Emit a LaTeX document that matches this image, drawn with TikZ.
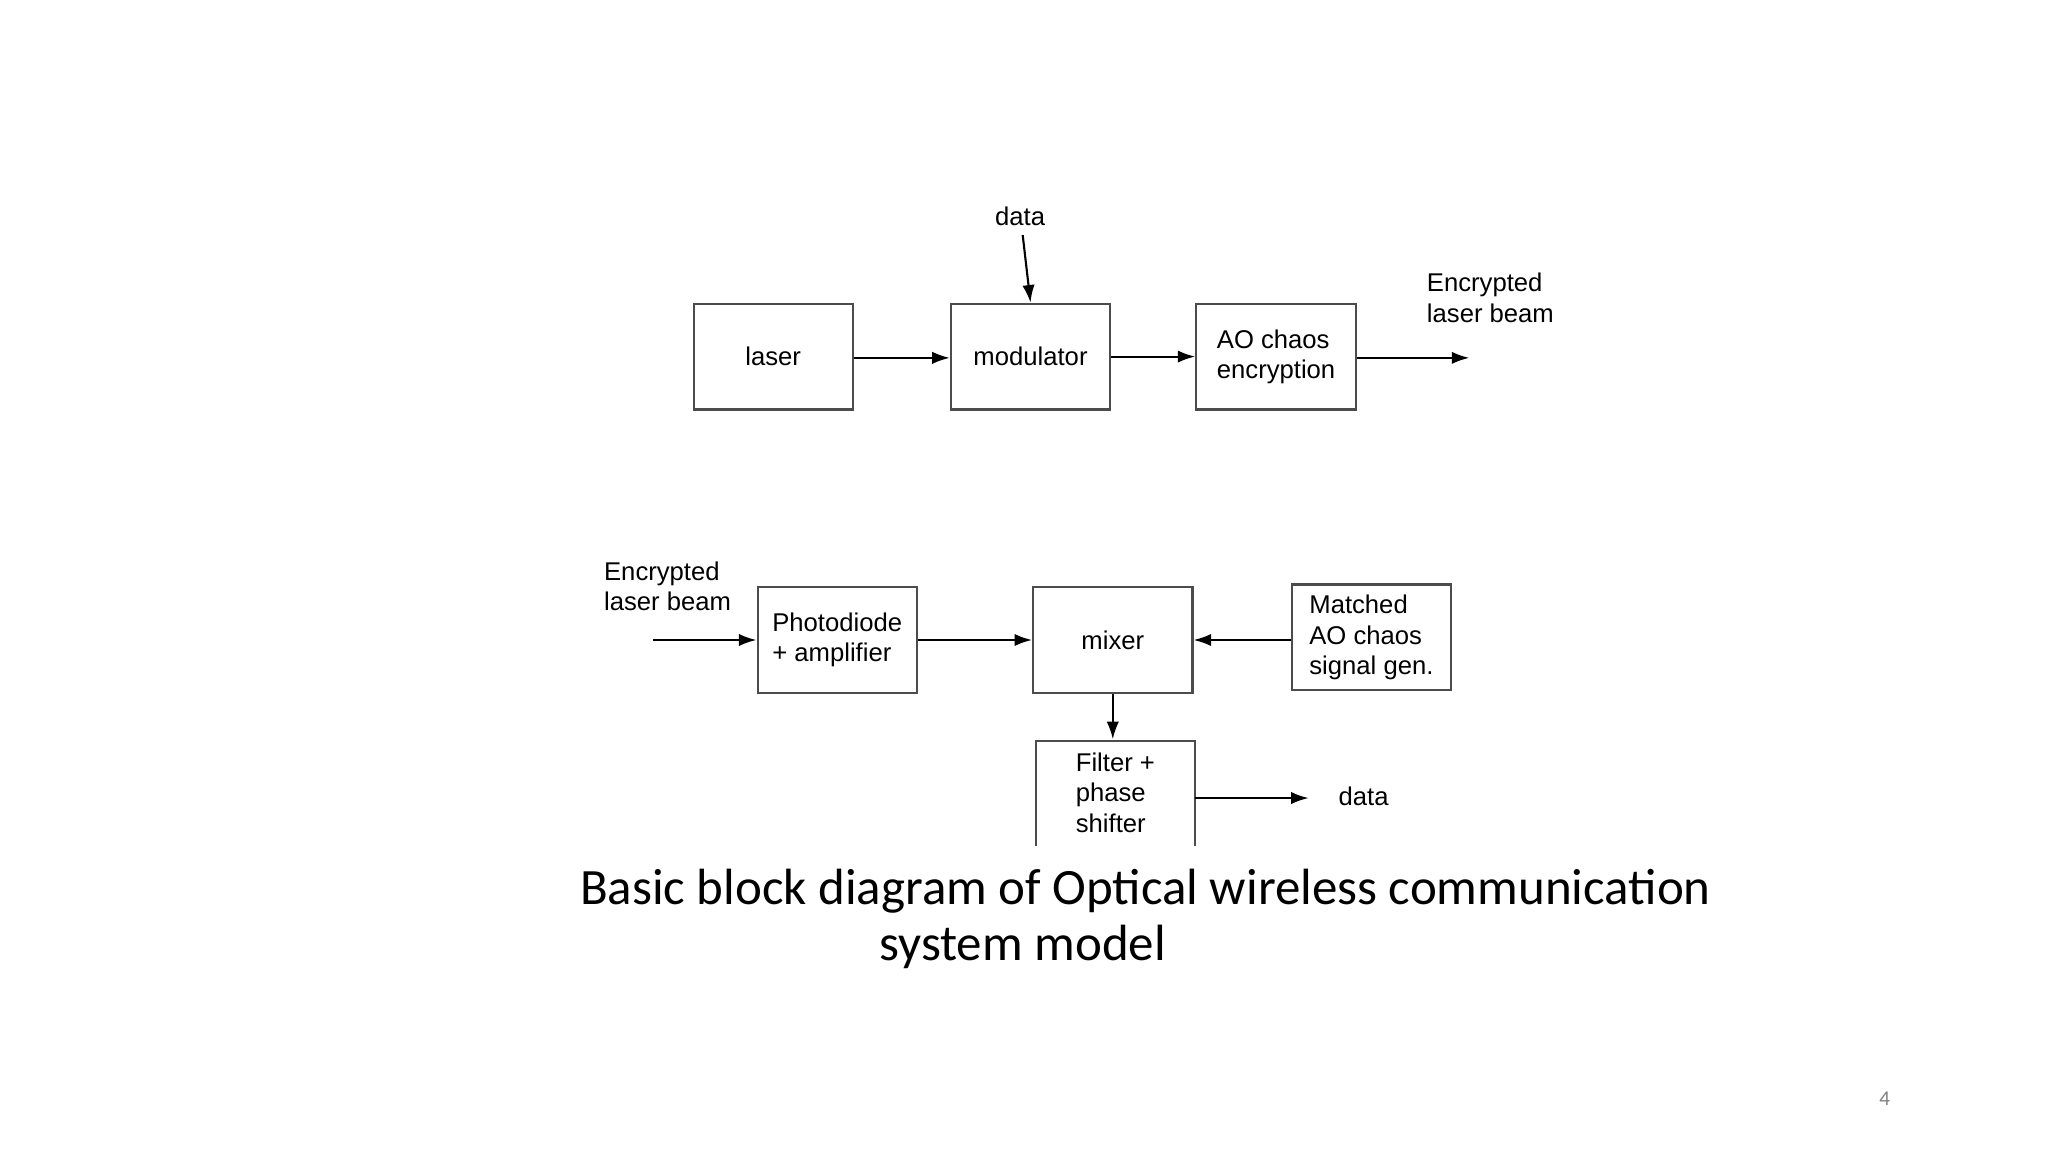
\documentclass[tikz,border=0pt]{standalone}
\usepackage{fontspec}
\setmainfont{Liberation Sans}
\newfontfamily\capfont{Carlito}
\usetikzlibrary{arrows.meta}
\begin{document}
\begin{tikzpicture}[x=0.01306cm,y=-0.01306cm,
  blk/.style={draw=black!70,line width=0.6pt,minimum width=122*0.01306cm,minimum height=81*0.01306cm,inner sep=0pt,align=left,font=\fontsize{7.3}{8.6}\selectfont},
  lbl/.style={font=\fontsize{7.3}{8.6}\selectfont,align=left,inner sep=0pt},
  ar/.style={-{Latex[length=5pt,width=3.5pt]},line width=0.6pt}]
\useasboundingbox (0,0) rectangle (1568,882);
\node[blk] (laser) at (592,273) {laser};
\node[blk] (mod) at (789,273) {modulator};
\node[blk] (ao) at (977,273) {AO chaos\\encryption};
\node[lbl] (data1) at (781,166) {data};
\coordinate (d1) at (783,180);
\coordinate (out1) at (1125,274);
\node[lbl,anchor=west] (enc1) at (1092,228) {Encrypted\\laser beam};
\draw[ar] (d1) -- (mod.north);
\draw[ar] (laser.east |- 0,274) -- (mod.west |- 0,274);
\draw[ar] (mod.east |- 0,273) -- (ao.west |- 0,273);
\draw[ar] (ao.east |- out1) -- (out1);

\node[blk] (pd) at (641,490) {Photodiode\\+ amplifier};
\node[blk] (mix) at (852,490) {mixer};
\node[blk] (mat) at (1050,488) {Matched\\AO chaos\\signal gen.};
\node[lbl,anchor=west] (enc2) at (462,449) {Encrypted\\laser beam};
\coordinate (in2) at (500,490);
\draw[ar] (in2) -- (pd.west);
\draw[ar] (pd.east) -- (mix.west);
\draw[ar] (mat.west |- 0,490) -- (mix.east);
\node[lbl,align=left] (filt) at (854,607) {Filter +\\phase\\shifter};
\coordinate (fl) at (793,567); \coordinate (fr) at (915,567);
\draw[black!70,line width=0.6pt] (793,648) -- (fl) -- (fr) -- (915,648);
\draw[ar] (mix.south) -- (852,566);
\node[lbl] (data2) at (1044,610) {data};
\coordinate (fo) at (915,611);
\draw[ar] (fo) -- (1002,611);

\node[font=\capfont\fontsize{14.5}{17}\selectfont,inner sep=0pt] (cap1) at (877,682) {Basic block diagram of Optical wireless communication};
\node[font=\capfont\fontsize{14.5}{17}\selectfont,inner sep=0pt] (cap2) at (783,725) {system model};
\node[font=\capfont\fontsize{6}{7}\selectfont,text=black!50,inner sep=0pt] (pg) at (1443,841) {4};
\end{tikzpicture}
\end{document}
